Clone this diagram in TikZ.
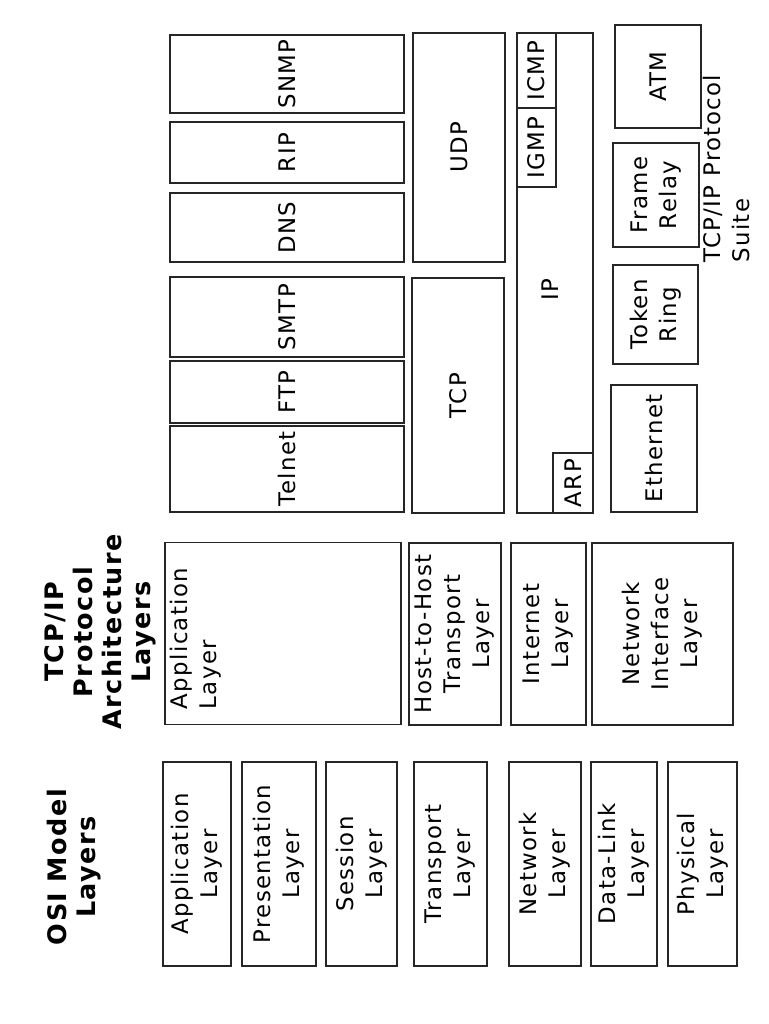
\documentclass[tikz,border=0pt]{standalone}
\usepackage{fontspec}
\setmainfont{DejaVu Sans}[LetterSpace=6]
\usepackage{tikz}
\usetikzlibrary{positioning}

\begin{document}
\begin{tikzpicture}[
    x=0.02cm, y=-0.02cm,
    cell/.style 2 args={draw=black!85, line width=0.9pt, rotate=90, inner sep=2pt, align=center,
        minimum width=#2*0.02cm, minimum height=#1*0.02cm, font=\fontsize{13}{16.5}\selectfont},
    plain/.style={rotate=90, inner sep=0pt, font=\fontsize{13}{16.5}\selectfont},
    heading/.style={rotate=90, align=center, inner sep=0pt, font=\fontsize{14.5}{16.5}\selectfont\bfseries}
]
\useasboundingbox (0,0) rectangle (768,1024);

% Column headings (whole page is turned on its side).
\node[heading] (osihead) at (74,867) {OSI Model\\Layers};
\node[heading] (archhead) at (100,632) {TCP/IP\\Protocol\\Architecture\\Layers};
\node[plain, anchor=north west, align=left] (suitehead) at (703,263) {TCP/IP Protocol\\Suite};

% OSI model layers.
\node[cell={68}{204}] (osiapp) at (197,864) {Application\\Layer};
\node[cell={74}{204}] (osipres) at (279,864) {Presentation\\Layer};
\node[cell={71}{204}] (osisess) at (361.5,864) {Session\\Layer};
\node[cell={73}{204}] (ositrans) at (450.5,864) {Transport\\Layer};
\node[cell={72}{204}] (osinet) at (545,864) {Network\\Layer};
\node[cell={66}{204}] (osilink) at (624,864) {Data-Link\\Layer};
\node[cell={69}{204}] (osiphys) at (702.5,864) {Physical\\Layer};

% TCP/IP architecture layers.
\node[cell={236}{182}] (archapp) at (283,633.5) {};
\node[plain, anchor=north west, align=left, inner xsep=9pt, inner ysep=3pt] (archapptext) at (archapp.north west) {Application\\Layer};
\node[cell={92}{182}] (archtrans) at (455,634) {Host-to-Host\\Transport\\Layer};
\node[cell={75}{182}] (archinet) at (548.5,634) {Internet\\Layer};
\node[cell={141}{182}] (archnif) at (662.5,634) {Network\\Interface\\Layer};

% Application protocols.
\node[cell={234}{78}] (snmp) at (287,74) {SNMP};
\node[cell={234}{61}] (rip) at (287,152.5) {RIP};
\node[cell={234}{69}] (dns) at (287,227.5) {DNS};
\node[cell={234}{80}] (smtp) at (287,317) {SMTP};
\node[cell={234}{62}] (ftp) at (287,392) {FTP};
\node[cell={234}{86}] (telnet) at (287,469) {Telnet};

% Transport protocols.
\node[cell={92}{229}] (udp) at (459,147.5) {UDP};
\node[cell={92}{235}] (tcp) at (458,395.5) {TCP};

% Internet protocols.
\node[cell={76}{480}] (ip) at (555,273) {};
\node[plain] (iptext) at (550,290) {IP};
\node[cell={39}{75}] (icmp) at (536.5,70.5) {ICMP};
\node[cell={39}{79}] (igmp) at (536.5,147.5) {IGMP};
\node[cell={40}{60}] (arp) at (573,483) {ARP};

% Network interface technologies.
\node[cell={86}{103}] (atm) at (658,76.5) {ATM};
\node[cell={86}{104}] (frelay) at (656,195) {Frame\\Relay};
\node[cell={85}{99}] (tring) at (655.5,314.5) {Token\\Ring};
\node[cell={86}{127}] (ether) at (654,448.5) {Ethernet};

\end{tikzpicture}
\end{document}
